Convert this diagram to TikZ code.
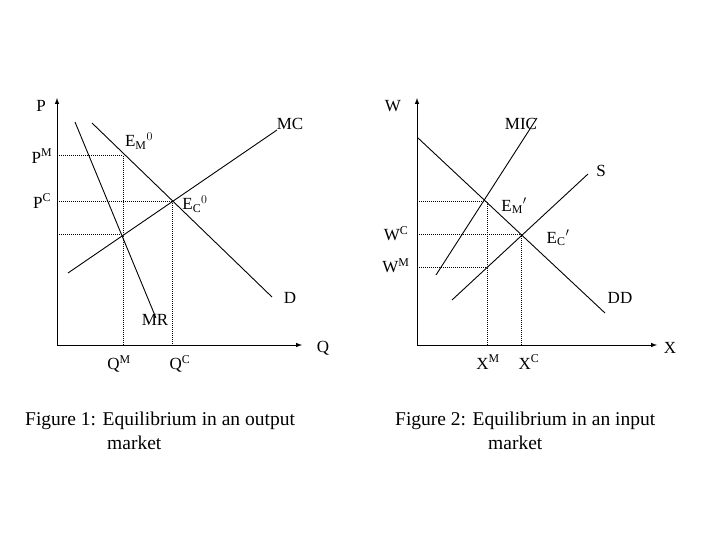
\documentclass[tikz,border=0pt]{standalone}
\usepackage{fontspec}
\setmainfont{Liberation Serif}
\begin{document}
\begin{tikzpicture}[x=1pt,y=-1pt,
  ln/.style={line width=0.9pt},
  dt/.style={densely dotted,line width=1pt},
  ax/.style={line width=1pt,-latex},
  lb/.style={font=\fontsize{17}{19}\selectfont,inner sep=1pt},
  captext/.style={font=\fontsize{19.5}{22}\selectfont,inner sep=0pt,anchor=west}]
\useasboundingbox (0,0) rectangle (720,540);
% Figure 1
\coordinate (o1) at (57,345);
\coordinate (t1) at (57,98);
\coordinate (r1) at (302,345);
\draw[ax] (o1) -- (t1);
\draw[ax] (o1) -- (r1);
\coordinate (mc1) at (68,273); \coordinate (mc2) at (277,130);
\coordinate (d1) at (92,123); \coordinate (d2) at (272,297);
\coordinate (mr1) at (75,122); \coordinate (mr2) at (156,318);
\draw[ln] (mc1) -- (mc2);
\draw[ln] (d1) -- (d2);
\draw[ln] (mr1) -- (mr2);
\coordinate (pm) at (57,156); \coordinate (pmE) at (123,156); \coordinate (qm) at (123,345);
\coordinate (pc) at (57,202); \coordinate (ec) at (172,202); \coordinate (qc) at (172,345);
\coordinate (p3) at (57,234); \coordinate (em) at (123,234);
\draw[dt] (pm) -- (pmE) -- (qm);
\draw[dt] (pc) -- (ec) -- (qc);
\draw[dt] (p3) -- (em);
\node[lb] (P) at (41,106) {P};
\node[lb] (Q) at (323,348) {Q};
\node[lb] (PM) at (42,156) {P$^{\mathrm{M}}$};
\node[lb] (PC) at (42,201) {P$^{\mathrm{C}}$};
\node[lb] (EM) at (139,141) {E$_{\mathrm{M}}$$^0$};
\node[lb] (EC) at (195,204) {E$_{\mathrm{C}}$$^0$};
\node[lb] (MC) at (290,124) {MC};
\node[lb] (D) at (290,298) {D};
\node[lb] (MR) at (155,320) {MR};
\node[lb] (QM) at (119,364) {Q$^{\mathrm{M}}$};
\node[lb] (QC) at (180,364) {Q$^{\mathrm{C}}$};
% Figure 2
\coordinate (o2) at (417,345);
\coordinate (t2) at (417,98);
\coordinate (r2) at (657,345);
\draw[ax] (o2) -- (t2);
\draw[ax] (o2) -- (r2);
\coordinate (mic1) at (436,275); \coordinate (mic2) at (537,118);
\coordinate (s1) at (452,300); \coordinate (s2) at (588,174);
\coordinate (dd1) at (418,138); \coordinate (dd2) at (605,313);
\draw[ln] (mic1) -- (mic2);
\draw[ln] (s1) -- (s2);
\draw[ln] (dd1) -- (dd2);
\coordinate (w1) at (417,202); \coordinate (emp) at (487,202); \coordinate (xm) at (487,345);
\coordinate (wc) at (417,234); \coordinate (ecp) at (521,234); \coordinate (xc) at (521,345);
\coordinate (wm) at (417,267); \coordinate (wmE) at (487,267);
\draw[dt] (w1) -- (emp) -- (xm);
\draw[dt] (wc) -- (ecp) -- (xc);
\draw[dt] (wm) -- (wmE);
\node[lb] (W) at (393,106) {W};
\node[lb] (X) at (670,348) {X};
\node[lb] (WC) at (396,234) {W$^{\mathrm{C}}$};
\node[lb] (WM) at (396,266) {W$^{\mathrm{M}}$};
\node[lb] (EMp) at (514,206) {E$_{\mathrm{M}}$$'$};
\node[lb] (ECp) at (558,238) {E$_{\mathrm{C}}$$'$};
\node[lb] (MIC) at (521,124) {MIC};
\node[lb] (S) at (601,171) {S};
\node[lb] (DD) at (620,298) {DD};
\node[lb] (XM) at (488,362) {X$^{\mathrm{M}}$};
\node[lb] (XC) at (529,362) {X$^{\mathrm{C}}$};
% captions
\node[captext] (c1) at (25,421) {Figure 1: Equilibrium in an output};
\node[captext] (c1b) at (107,443) {market};
\node[captext] (c2) at (395,421) {Figure 2: Equilibrium in an input};
\node[captext] (c2b) at (488,443) {market};
\end{tikzpicture}
\end{document}
